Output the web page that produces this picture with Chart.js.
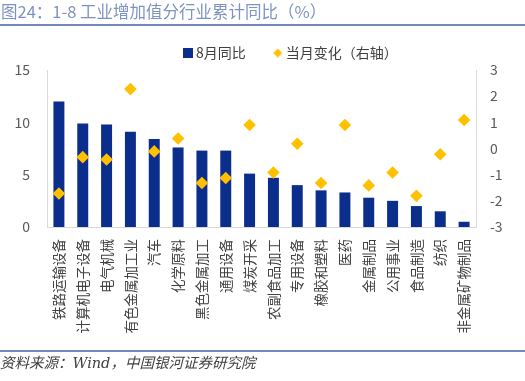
<!DOCTYPE html>
<html><head><meta charset="utf-8">
<script src="https://cdn.jsdelivr.net/npm/chart.js@4"></script>
<style>
html,body{margin:0;padding:0;background:#fff;}
#wrap{position:relative;width:525px;height:381px;overflow:hidden;background:#fff;}
#title{position:absolute;left:1px;top:1px;font:16.5px "Noto Sans CJK SC";color:#7f93c2;white-space:nowrap;line-height:20px;}
#tline{position:absolute;left:0;top:24px;width:525px;height:2px;background:#7489bb;}
#fline{position:absolute;left:0;top:350px;width:525px;height:2px;background:#7489bb;}
#foot{position:absolute;left:0;top:354px;font:italic 14.5px "DejaVu Serif","Noto Sans CJK SC";color:#404040;white-space:nowrap;line-height:18px;}
#c{position:absolute;left:0;top:0;}
</style></head>
<body>
<div id="wrap">
<canvas id="c" width="525" height="381"></canvas>
<div id="title">图24：1-8 工业增加值分行业累计同比（%）</div>
<div id="tline"></div>
<div id="fline"></div>
<div id="foot">资料来源：Wind，中国银河证券研究院</div>
</div>
<script>
const categories = ['铁路运输设备','计算机电子设备','电气机械','有色金属加工业','汽车','化学原料','黑色金属加工','通用设备','煤炭开采','农副食品加工','专用设备','橡胶和塑料','医药','金属制品','公用事业','食品制造','纺织','非金属矿物制品'];
const augYoY = [12.0,9.9,9.8,9.1,8.4,7.6,7.3,7.3,5.1,4.7,4.0,3.5,3.3,2.8,2.5,2.0,1.5,0.5];
const monthChange = [-1.72,-0.33,-0.42,2.27,-0.11,0.38,-1.32,-1.13,0.90,-0.92,0.18,-1.32,0.90,-1.41,-0.92,-1.81,-0.22,1.09];
const leftTicks = [0,5,10,15];
const rightTicks = [-3,-2,-1,0,1,2,3];
const seriesNames = ['8月同比','当月变化（右轴）'];

const BAR = '#0b2d8b', DIA = '#ffc000';
function icon(w,h,draw){const c=document.createElement('canvas');c.width=w;c.height=h;draw(c.getContext('2d'),w,h);return c;}
const sqIcon = icon(10,10,(g,w,h)=>{g.fillStyle=BAR;g.fillRect(0,0,w,h);});
const dmIcon = icon(9,9,(g,w,h)=>{g.fillStyle=DIA;g.beginPath();g.moveTo(w/2,0);g.lineTo(w,h/2);g.lineTo(w/2,h);g.lineTo(0,h/2);g.closePath();g.fill();});

const LEG_PAD = 31;
const legendPlace = {
  id:'legendPlace',
  afterLayout(chart){
    const lg = chart.legend; if(!lg) return;
    const x0 = (lg.left + LEG_PAD + lg.right - lg.lineWidths[0]) / 2;
    const d = 187 - x0;
    lg.left += d; lg.right += d;
    const h = lg.height;
    lg.top = 53 - LEG_PAD - 7; lg.bottom = lg.top + h;
  }
};

const tickFont = {family:'"Noto Sans CJK SC", "Noto Sans"', size:14};
new Chart(document.getElementById('c'), {
  data:{
    labels:categories,
    datasets:[
      {type:'bar', label:seriesNames[0], data:augYoY, yAxisID:'y', backgroundColor:BAR, barPercentage:0.46, categoryPercentage:1, order:2},
      {type:'line', label:seriesNames[1], data:monthChange, yAxisID:'y1', showLine:false, pointStyle:'rectRot', pointRadius:6.3, pointHoverRadius:6.3, pointBackgroundColor:DIA, pointBorderColor:DIA, pointBorderWidth:0, order:1}
    ]
  },
  options:{
    responsive:false, animation:false, devicePixelRatio:1,
    layout:{padding:{top:15,left:0,right:0,bottom:0}},
    plugins:{
      tooltip:{enabled:false},
      legend:{
        position:'top', align:'center',
        labels:{
          usePointStyle:true, pointStyleWidth:2, padding:LEG_PAD,
          font:{family:'"Noto Sans CJK SC"', size:14}, color:'#404040',
          generateLabels:()=>[
            {text:seriesNames[0], pointStyle:sqIcon, fillStyle:BAR, strokeStyle:BAR, lineWidth:0, hidden:false, datasetIndex:0, fontColor:'#404040'},
            {text:seriesNames[1], pointStyle:dmIcon, fillStyle:DIA, strokeStyle:DIA, lineWidth:0, hidden:false, datasetIndex:1, fontColor:'#404040'}
          ]
        }
      }
    },
    scales:{
      x:{
        grid:{display:false, drawTicks:false},
        border:{display:true, color:'#d9d9d9', width:1},
        ticks:{minRotation:90, maxRotation:90, autoSkip:false, padding:12, color:'#404040', font:{family:'"Noto Sans CJK SC"', size:13.5}},
        afterFit:s=>{s.height=154;}
      },
      y:{
        position:'left', min:0, max:15,
        grid:{display:false, drawTicks:false},
        border:{display:true, color:'#d9d9d9', width:1},
        afterBuildTicks:s=>{s.ticks=leftTicks.map(v=>({value:v}));},
        ticks:{padding:17, color:'#595959', font:tickFont},
        afterFit:s=>{s.width=47;}
      },
      y1:{
        position:'right', min:-3, max:3,
        grid:{display:false, drawTicks:false},
        border:{display:true, color:'#d9d9d9', width:1},
        afterBuildTicks:s=>{s.ticks=rightTicks.map(v=>({value:v}));},
        ticks:{padding:14, color:'#595959', font:tickFont},
        afterFit:s=>{s.width=49;}
      }
    }
  },
  plugins:[legendPlace]
});
</script>
</body></html>
